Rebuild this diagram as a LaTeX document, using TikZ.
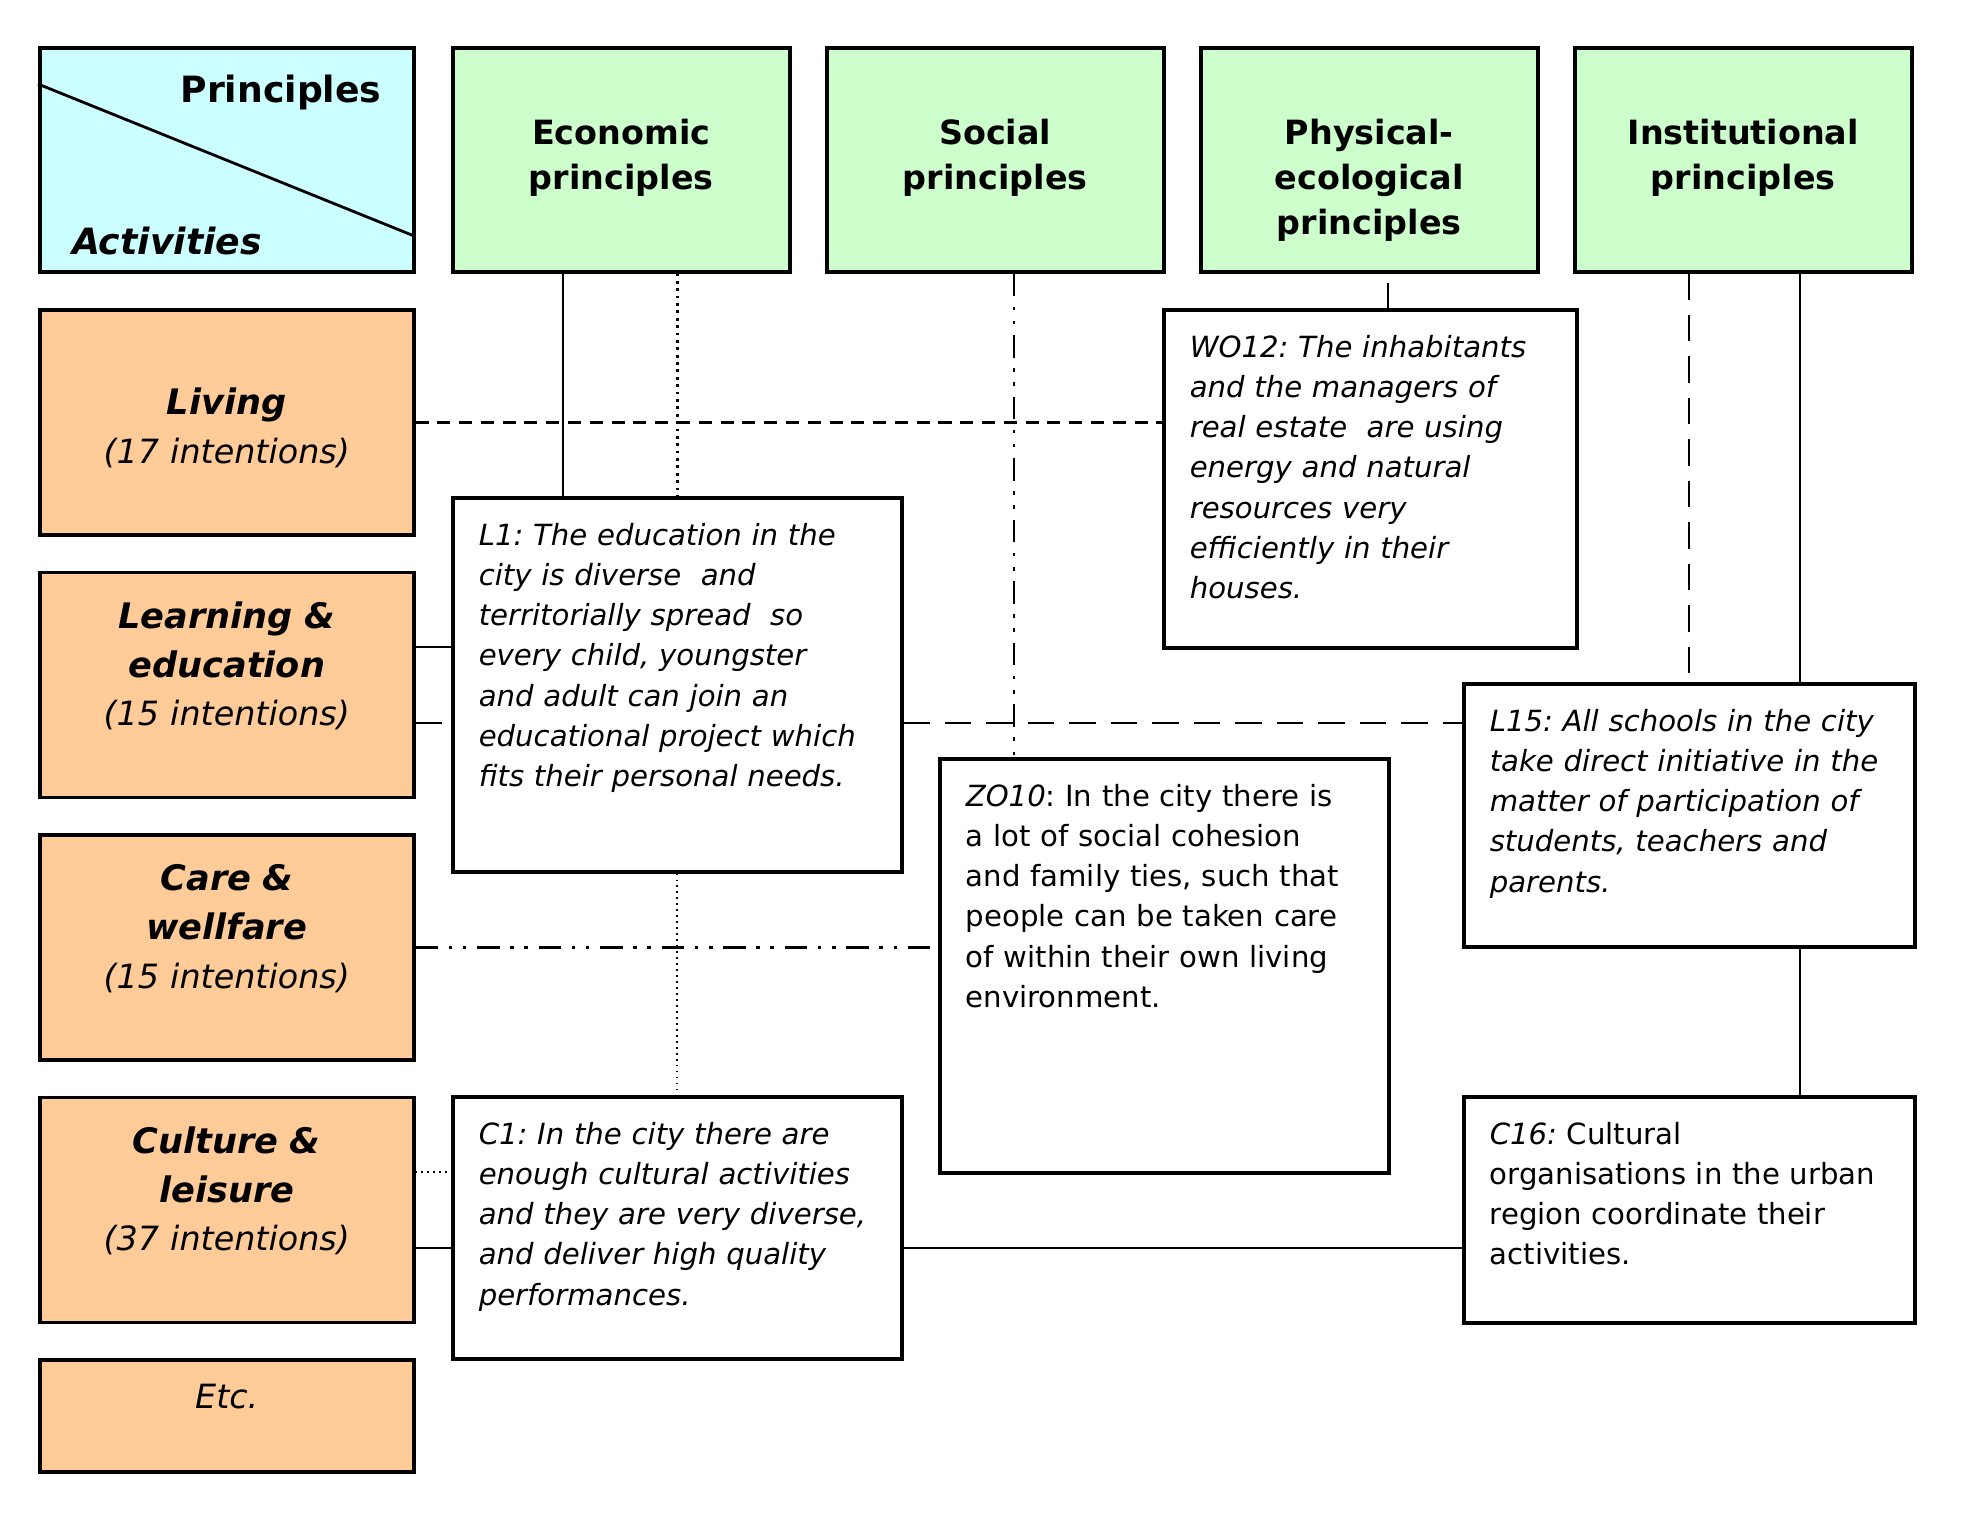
\documentclass[tikz,border=0pt]{standalone}
\usepackage{fontspec}
\setmainfont{DejaVu Sans}
\frenchspacing
\usetikzlibrary{calc}
\definecolor{ccyan}{HTML}{CCFFFF}
\definecolor{cgreen}{HTML}{CCFFCC}
\definecolor{corange}{HTML}{FFCC99}
\newcommand{\actname}[1]{{\fontsize{10}{13.9}\selectfont\bfseries #1}}
\tikzset{
  every picture/.style={line width=0.6pt},
  cell/.style={draw, line width=1pt, anchor=north west, inner xsep=0.26cm, inner ysep=0pt},
  head/.style={cell, fill=cgreen, align=center, text width=2.85cm, text height=0.97cm, text depth=1.27cm, font=\fontsize{9.5}{12.8}\selectfont\bfseries},
  act/.style={cell, fill=corange, align=center, text width=3.22cm, text height=0.56cm, text depth=1.69cm, font=\fontsize{9.5}{13.9}\selectfont\itshape},
  intent/.style={cell, fill=white, align=left, text height=0.48cm, font=\fontsize{8.3}{11.4}\selectfont},
  dotlink/.style={line width=0.8pt, dash pattern=on 0.8pt off 1.3pt},
  finedot/.style={line width=0.5pt, dash pattern=on 0.5pt off 1.2pt},
  shortdash/.style={line width=0.9pt, dash pattern=on 3.7pt off 2.5pt},
  longdash/.style={line width=0.8pt, dash pattern=on 7.5pt off 4.3pt},
  dashdotdot/.style={line width=0.8pt, dash pattern=on 6.5pt off 3pt on 1pt off 3pt on 1pt off 3pt},
}

\begin{document}
\begin{tikzpicture}
  \useasboundingbox (0,0) rectangle (19.63,-15.24);
  % corner box
  \node[cell, fill=ccyan, minimum width=3.74cm, minimum height=2.24cm] (corner) at (0.38,-0.46) {};
  \draw[line width=0.8pt] ($(corner.north west)+(0,-0.38)$) -- ($(corner.south east)+(0,0.37)$);
  \node[anchor=base east, inner sep=0pt, font=\fontsize{10.3}{12}\selectfont\bfseries] (ptxt) at ($(corner.north east)+(-0.33,-0.56)$) {Principles};
  \node[anchor=base west, inner sep=0pt, font=\fontsize{10.3}{12}\selectfont\bfseries\itshape] (atxt) at ($(corner.south west)+(0.33,0.19)$) {Activities};
  % principles
  \foreach \n/\i/\txt in {econ/0/{Economic\\principles}, soc/1/{Social\\principles}, phys/2/{Physical-\\ecological\\principles}, inst/3/{Institutional\\principles}} {
    \node[head] (\n) at (4.51+3.74*\i,-0.46) {\txt};
  }
  % activities
  \foreach \n/\i/\txt in {living/0/{\mbox{}\\\actname{Living}\\(17 intentions)}, learn/1/{\actname{Learning \&}\\\actname{education}\\(15 intentions)}, care/2/{\actname{Care \&}\\\actname{wellfare}\\(15 intentions)}, culture/3/{\actname{Culture \&}\\\actname{leisure}\\(37 intentions)}} {
    \node[act] (\n) at (0.38,-3.08-2.625*\i) {\txt};
  }
  \node[act, text height=0.49cm, text depth=0.63cm] (etc) at (0.38,-13.58) {Etc.};
  % intentions
  \node[intent, text width=3.97cm, text depth=3.26cm] (L1) at (4.51,-4.96) {\itshape L1: The education in the\\city is diverse\ \ and\\territorially spread\ \ so\\every child, youngster\\and adult can join an\\educational project which\\fits their personal needs.};
  \node[intent, text width=3.61cm, text depth=2.90cm] (WO12) at (11.62,-3.08) {\itshape WO12: The inhabitants\\and the managers of\\real estate\ \ are using\\energy and natural\\resources very\\efficiently in their\\houses.};
  \node[intent, text width=3.97cm, text depth=3.66cm] (ZO10) at (9.38,-7.57) {\textit{ZO10}: In the city there is\\a lot of social cohesion\\and family ties, such that\\people can be taken care\\of within their own living\\environment.};
  \node[intent, text width=3.99cm, text depth=2.15cm] (L15) at (14.62,-6.82) {\itshape L15: All schools in the city\\take direct initiative in the\\matter of participation of\\students, teachers and\\parents.};
  \node[intent, text width=3.97cm, text depth=2.14cm] (C1) at (4.51,-10.95) {\itshape C1: In the city there are\\enough cultural activities\\and they are very diverse,\\and deliver high quality\\performances.};
  \node[intent, text width=3.99cm, text depth=1.78cm] (C16) at (14.62,-10.95) {\textit{C16:} Cultural\\organisations in the urban\\region coordinate their\\activities.};
  % links down from the principles
  \coordinate (e1) at ($(econ.south west)!0.33!(econ.south east)$);
  \draw (e1) -- (e1 |- L1.north);
  \draw[dotlink] (L1.north |- econ.south) -- (L1.north);
  \draw[finedot] (L1.south) -- (C1.north);
  \coordinate (s1) at ($(soc.south west)!0.555!(soc.south east)$);
  \draw[dashdotdot] (s1) -- (s1 |- ZO10.north);
  \coordinate (p1) at ($(phys.south west)!0.555!(phys.south east)$);
  \draw[longdash, line width=0.6pt, dash phase=9pt] (p1) -- (p1 |- WO12.north);
  \draw[longdash, line width=0.6pt] (L15.north |- inst.south) -- (L15.north);
  \coordinate (i1) at ($(inst.south west)!0.666!(inst.south east)$);
  \draw (i1) -- (i1 |- L15.north);
  \draw (i1 |- L15.south) -- (i1 |- C16.north);
  % links across from the activities
  \draw[shortdash] (living.east) -- (living.east -| WO12.west);
  \coordinate (a1) at ($(learn.north east)!0.333!(learn.south east)$);
  \coordinate (a2) at ($(learn.north east)!0.667!(learn.south east)$);
  \draw (a1) -- (a1 -| L1.west);
  \draw[longdash] (a2) -- (a2 -| L1.west);
  \draw[longdash] (a2 -| L1.east) -- (a2 -| L15.west);
  \draw[dashdotdot] (care.east) -- (care.east -| ZO10.west);
  \coordinate (cu1) at ($(culture.north east)!0.336!(culture.south east)$);
  \coordinate (cu2) at ($(culture.north east)!0.667!(culture.south east)$);
  \draw[finedot] (cu1) -- (cu1 -| C1.west);
  \draw (cu2) -- (cu2 -| C1.west);
  \draw (cu2 -| C1.east) -- (cu2 -| C16.west);
\end{tikzpicture}
\end{document}
